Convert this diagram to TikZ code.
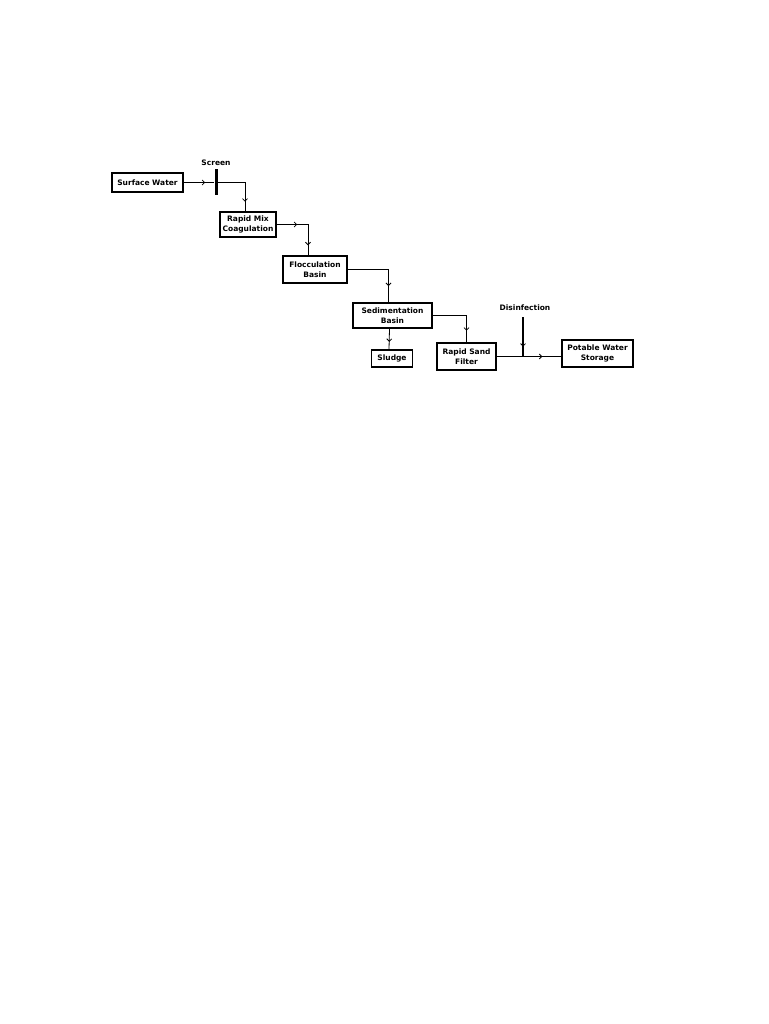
\documentclass[tikz,border=0pt]{standalone}
\usepackage{fontspec}
\setmainfont{DejaVu Sans}
\usetikzlibrary{positioning, arrows.meta, decorations.markings}

\begin{document}
\begin{tikzpicture}[
   x=1pt, y=-1pt,
   font=\fontsize{7.5}{10.5}\selectfont\bfseries,
   box/.style={rectangle, draw, line width=1.6pt, align=center, inner sep=1pt},
   lbl/.style={inner sep=1pt},
   bar/.style={line width=2.6pt},
   flow/.style={line width=0.8pt},
   arr/.style={postaction={decorate, decoration={markings,
      mark=at position #1 with {\arrow{Straight Barb[length=2.5pt, width=5pt, line width=0.8pt]}}}}}
]
\useasboundingbox (0,0) rectangle (768,1024);

% Nodes
\node[box, minimum width=71pt, minimum height=19pt] (surface) at (147.5,182.5) {Surface Water};
\node[fill, inner sep=0pt, minimum width=3pt, minimum height=26pt] (screen) at (216,182.5) {};
\node[lbl, above=2pt of screen] (screenlbl) {Screen};
\node[box, minimum width=56pt, minimum height=25pt] (rapid) at (248,224.5) {Rapid Mix\\Coagulation};
\node[box, minimum width=64pt, minimum height=27pt] (flocc) at (315,269.5) {Flocculation\\Basin};
\node[box, minimum width=79pt, minimum height=25pt] (sed) at (392.5,315.5) {Sedimentation\\Basin};
\node[box, minimum width=41pt, minimum height=17pt] (sludge) at (392,358.5) {Sludge};
\node[box, minimum width=59pt, minimum height=27pt] (rsf) at (466.5,356.5) {Rapid Sand\\Filter};
\node[box, line width=2.2pt, minimum width=71pt, minimum height=27pt] (potable) at (597.5,353.5) {Potable Water\\Storage};
\node[lbl] (disinf) at (525,308) {Disinfection};
\coordinate (dtop) at (523,317);
\coordinate (dbot) at (dtop |- rsf);

% Edges
\draw[flow, arr=0.7] (surface) -- (screen);
\draw[flow, arr=0.83] (screen) -| ([xshift=-3pt]rapid.north);
\draw[flow, arr=0.33, arr=0.84] (rapid) -| ([xshift=-7pt]flocc.north);
\draw[flow, arr=0.78] (flocc) -| ([xshift=-4pt]sed.north);
\draw[flow, arr=0.81] (sed) -| (rsf);
\draw[flow, arr=0.64] ([xshift=-3pt]sed.south) -- ([xshift=-3pt]sludge.north);
\draw[flow, arr=0.71] (rsf) -- (rsf -| potable.west);
\draw[bar, arr=0.75] (dtop) -- (dbot);

\end{tikzpicture}
\end{document}
